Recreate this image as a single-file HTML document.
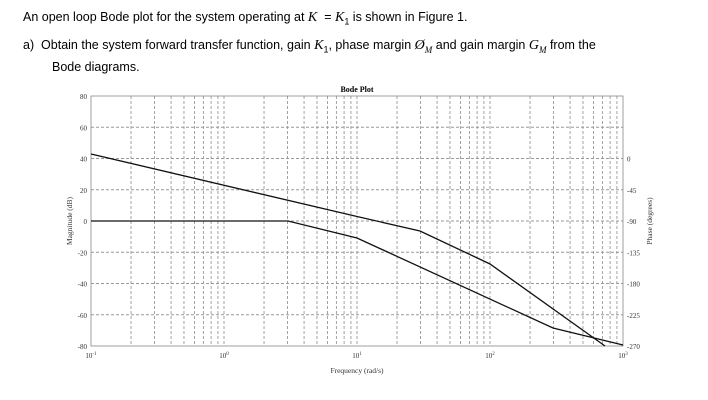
<!DOCTYPE html>
<html><head><meta charset="utf-8"><style>
body{margin:0;background:#fff;width:708px;height:400px;overflow:hidden}
.t{position:absolute;font-family:"Liberation Sans",sans-serif;font-size:12.5px;color:#000;white-space:nowrap}
i{font-family:"Liberation Serif",serif;font-size:14px}
</style></head><body>
<div class="t" style="left:23px;top:10px">An open loop Bode plot for the system operating at <i>K</i> &nbsp;= <i>K</i><sub style="font-size:9px">1</sub> is shown in Figure 1.</div>
<div class="t" style="left:23px;top:38px">a)&nbsp; Obtain the system forward transfer function, gain <i>K</i><sub style="font-size:9px">1</sub>, phase margin <i>Ø<sub style="font-size:9px">M</sub></i> and gain margin <i>G<sub style="font-size:9px">M</sub></i> from the</div>
<div class="t" style="left:52px;top:60px">Bode diagrams.</div>
<svg id="s" width="708" height="400" style="position:absolute;left:0;top:0" font-family="Liberation Serif,serif"></svg>
<script>
var s=document.getElementById('s'),h='';
var L=91,R=623,T=96,B=346,D=133;
for(var d=0;d<4;d++)for(var k=1;k<10;k++){var x=L+D*d+D*Math.log10(k);if(k>1||d>0)h+='<line x1="'+x+'" y1="'+T+'" x2="'+x+'" y2="'+B+'" stroke="#999" stroke-width="0.9" stroke-dasharray="3,2"/>';}
for(var j=1;j<8;j++){var y=T+j*31.25;h+='<line x1="'+L+'" y1="'+y+'" x2="'+R+'" y2="'+y+'" stroke="#999" stroke-width="0.9" stroke-dasharray="3,2"/>';}
h+='<rect x="'+L+'" y="'+T+'" width="'+(R-L)+'" height="'+(B-T)+'" fill="none" stroke="#888" stroke-width="0.8"/>';
var ml=['80','60','40','20','0','-20','-40','-60','-80'];
for(j=0;j<9;j++)h+='<text x="87" y="'+(T+j*31.25+3)+'" font-size="7" text-anchor="end" fill="#333">'+ml[j]+'</text>';
var pl=['0','-45','-90','-135','-180','-225','-270'];
for(j=0;j<7;j++)h+='<text x="627" y="'+(T+(j+2)*31.25+3)+'" font-size="7" fill="#333">'+pl[j]+'</text>';
var ex=['-1','0','1','2','3'];
for(j=0;j<5;j++)h+='<text x="'+(L+j*D)+'" y="358" font-size="7" text-anchor="middle" fill="#333">10<tspan font-size="5" dy="-3">'+ex[j]+'</tspan></text>';
h+='<text x="357" y="92" font-size="8" font-weight="bold" text-anchor="middle">Bode Plot</text>';
h+='<text x="357" y="373" font-size="7.5" text-anchor="middle" fill="#333">Frequency (rad/s)</text>';
h+='<text transform="translate(72,221) rotate(-90)" font-size="7.5" text-anchor="middle" fill="#333">Magnitude (dB)</text>';
h+='<text transform="translate(652,221) rotate(-90)" font-size="7.5" text-anchor="middle" fill="#333">Phase (degrees)</text>';
h+='<polyline points="91,154 357,216.5 420,231 490,264 605,346" fill="none" stroke="#111" stroke-width="1.3"/>';
h+='<polyline points="91,221 288,221 357,238 553,328 623,345" fill="none" stroke="#111" stroke-width="1.3"/>';
s.innerHTML=h;
</script>
</body></html>
